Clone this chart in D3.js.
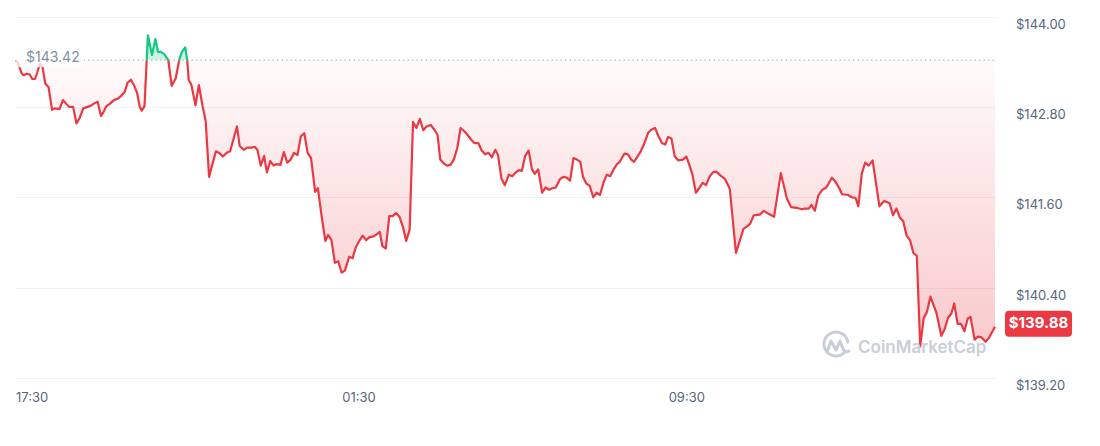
<!DOCTYPE html>
<html>
<head>
<meta charset="utf-8">
<script src="https://cdn.jsdelivr.net/npm/d3@7"></script>
<style>
  html, body { margin: 0; padding: 0; background: #fff; }
  svg { display: block; font-family: Inter, "Noto Sans", sans-serif; }
</style>
</head>
<body>
<svg id="chart" width="1100" height="446"></svg>
<script>
"use strict";

// minutes since 17:30 (24h window) and price in USD
const times = [
    0, 3, 8, 11, 16, 20, 24, 28, 31, 35, 39, 43, 48, 53, 57, 64, 69, 75, 78, 84,
    89, 94, 99, 105, 109, 114, 120, 125, 128, 133, 138, 144, 150, 155, 160, 164, 169, 174, 178, 182,
    185, 189, 194, 200, 205, 209, 213, 218, 224, 229, 235, 240, 244, 249, 252, 254, 258, 264, 269, 274,
    279, 284, 289, 294, 300, 304, 310, 315, 325, 329, 335, 340, 347, 351, 355, 360, 365, 369, 374, 379,
    384, 389, 394, 399, 404, 409, 414, 419, 424, 429, 434, 440, 444, 450, 455, 459, 464, 469, 474, 479,
    484, 490, 495, 500, 505, 510, 515, 520, 526, 531, 535, 539, 544, 549, 554, 559, 564, 569, 574, 579,
    584, 589, 594, 599, 604, 610, 615, 620, 624, 629, 634, 639, 644, 649, 654, 659, 664, 669, 674, 680,
    685, 690, 695, 700, 705, 709, 714, 719, 725, 730, 735, 740, 744, 749, 754, 759, 763, 768, 774, 779,
    784, 789, 794, 800, 805, 810, 815, 820, 825, 830, 834, 839, 844, 849, 854, 859, 864, 869, 874, 879,
    884, 888, 895, 900, 905, 909, 914, 919, 924, 930, 935, 940, 945, 950, 955, 959, 964, 969, 974, 981,
    986, 990, 995, 1000, 1005, 1010, 1015, 1020, 1025, 1030, 1036, 1043, 1048, 1050, 1059, 1070, 1075, 1080, 1085, 1094,
    1100, 1107, 1115, 1125, 1134, 1140, 1148, 1156, 1160, 1166, 1170, 1175, 1180, 1186, 1192, 1200, 1205, 1211, 1215, 1224,
    1229, 1235, 1239, 1244, 1249, 1254, 1260, 1270, 1277, 1285, 1290, 1295, 1300, 1305, 1310, 1315, 1320, 1325, 1330, 1335,
    1340, 1345, 1354, 1361, 1366, 1371, 1376, 1380, 1385, 1390, 1395, 1400, 1404, 1410, 1415, 1420, 1426, 1431, 1440
];
const prices = [
    143.42, 143.38, 143.25, 143.22, 143.24, 143.23, 143.17, 143.17, 143.25, 143.37, 143.33, 143.11, 143.06, 142.76, 142.78, 142.77, 142.89, 142.83, 142.80, 142.80,
    142.58, 142.66, 142.78, 142.80, 142.81, 142.84, 142.87, 142.68, 142.72, 142.81, 142.84, 142.89, 142.91, 142.95, 143.00, 143.12, 143.16, 143.08, 142.99, 142.80,
    142.75, 142.81, 143.75, 143.49, 143.70, 143.53, 143.53, 143.50, 143.42, 143.08, 143.18, 143.42, 143.53, 143.59, 143.40, 143.16, 143.09, 142.82, 143.09, 142.83,
    142.61, 141.87, 142.04, 142.21, 142.18, 142.14, 142.19, 142.21, 142.54, 142.28, 142.23, 142.26, 142.26, 142.27, 142.23, 142.02, 142.15, 141.93, 142.08, 142.02,
    142.04, 142.03, 142.20, 142.06, 142.10, 142.19, 142.16, 142.41, 142.45, 142.19, 142.12, 141.67, 141.72, 141.32, 141.02, 141.10, 141.03, 140.73, 140.75, 140.60,
    140.63, 140.81, 140.79, 140.94, 141.02, 141.09, 141.03, 141.07, 141.08, 141.11, 141.14, 140.95, 140.92, 141.35, 141.35, 141.39, 141.34, 141.21, 141.02, 141.17,
    142.60, 142.52, 142.64, 142.49, 142.54, 142.56, 142.50, 142.43, 142.10, 142.05, 142.02, 142.03, 142.10, 142.25, 142.52, 142.48, 142.43, 142.37, 142.32, 142.32,
    142.22, 142.17, 142.19, 142.13, 142.23, 142.16, 141.85, 141.76, 141.90, 141.88, 141.93, 141.96, 141.95, 142.15, 142.22, 141.97, 141.91, 141.97, 141.66, 141.73,
    141.70, 141.72, 141.73, 141.84, 141.87, 141.86, 141.82, 142.12, 142.10, 142.07, 141.87, 141.78, 141.75, 141.60, 141.66, 141.63, 141.79, 141.90, 141.88, 141.97,
    142.04, 142.07, 142.18, 142.17, 142.10, 142.07, 142.14, 142.21, 142.31, 142.46, 142.50, 142.52, 142.41, 142.32, 142.30, 142.40, 142.38, 142.14, 142.09, 142.10,
    142.14, 142.04, 141.90, 141.66, 141.72, 141.79, 141.76, 141.87, 141.93, 141.94, 141.89, 141.84, 141.75, 141.70, 140.86, 141.18, 141.21, 141.25, 141.36, 141.37,
    141.42, 141.38, 141.34, 141.92, 141.58, 141.47, 141.46, 141.44, 141.45, 141.45, 141.50, 141.42, 141.62, 141.70, 141.73, 141.86, 141.81, 141.72, 141.64, 141.63,
    141.60, 141.59, 141.48, 141.91, 142.06, 142.02, 142.09, 141.48, 141.55, 141.52, 141.36, 141.45, 141.33, 141.28, 141.09, 141.03, 140.86, 140.82, 139.62, 139.99,
    140.08, 140.28, 140.06, 139.76, 139.85, 140.00, 140.06, 140.19, 139.92, 139.92, 139.82, 139.99, 140.01, 139.71, 139.75, 139.74, 139.68, 139.73, 139.88
];

const yTicks = [139.2, 140.4, 141.6, 142.8, 144.0];
const xTicks = [0, 480, 960];
const xTickLabels = ["17:30", "01:30", "09:30"];
const openPrice = 143.42;

const RED = "#ea3943";
const GREEN = "#16c784";
const LABEL_COLOR = "#58667e";

const LEFT = 16;
const RIGHT = 995;
const TOP = 16.5;
const BOTTOM = 378;

const data = times.map(function (t, i) {
    return {t: t, p: prices[i]};
});

const svg = d3.select("#chart");
const x = d3.scaleLinear().domain([0, 1440]).range([LEFT, RIGHT]);
const y = d3.scaleLinear().domain([139.2, 144]).range([BOTTOM, TOP]);
const baseY = y(openPrice);

const defs = svg.append("defs");

// Gradients for the areas between the line and the opening price.
let redGrad = defs.append("linearGradient")
    .attr("id", "redFill")
    .attr("gradientUnits", "userSpaceOnUse")
    .attr("x1", 0).attr("x2", 0)
    .attr("y1", baseY).attr("y2", BOTTOM);
redGrad.append("stop").attr("offset", 0).attr("stop-color", RED).attr("stop-opacity", 0.02);
redGrad.append("stop").attr("offset", 1).attr("stop-color", RED).attr("stop-opacity", 0.3);

let greenGrad = defs.append("linearGradient")
    .attr("id", "greenFill")
    .attr("gradientUnits", "userSpaceOnUse")
    .attr("x1", 0).attr("x2", 0)
    .attr("y1", TOP).attr("y2", baseY);
greenGrad.append("stop").attr("offset", 0).attr("stop-color", GREEN).attr("stop-opacity", 0.4);
greenGrad.append("stop").attr("offset", 1).attr("stop-color", GREEN).attr("stop-opacity", 0.2);

defs.append("clipPath").attr("id", "clipAbove")
    .append("rect")
    .attr("x", 0).attr("y", 0)
    .attr("width", 1100).attr("height", baseY);
defs.append("clipPath").attr("id", "clipBelow")
    .append("rect")
    .attr("x", 0).attr("y", baseY)
    .attr("width", 1100).attr("height", 446 - baseY);

// Grid lines
svg.append("g")
    .selectAll("line")
    .data(yTicks)
    .join("line")
    .attr("x1", LEFT)
    .attr("x2", RIGHT)
    .attr("y1", d => Math.round(y(d)) + 0.5)
    .attr("y2", d => Math.round(y(d)) + 0.5)
    .attr("stroke", "#eff2f5")
    .attr("stroke-width", 1);

// Areas
const area = d3.area()
    .x(d => x(d.t))
    .y0(baseY)
    .y1(d => y(d.p));
svg.append("path")
    .datum(data)
    .attr("d", area)
    .attr("fill", "url(#redFill)")
    .attr("clip-path", "url(#clipBelow)");
svg.append("path")
    .datum(data)
    .attr("d", area)
    .attr("fill", "url(#greenFill)")
    .attr("clip-path", "url(#clipAbove)");

// Opening price reference line
svg.append("line")
    .attr("x1", LEFT)
    .attr("x2", RIGHT)
    .attr("y1", baseY)
    .attr("y2", baseY)
    .attr("stroke", "#a6b0c3")
    .attr("stroke-width", 1)
    .attr("stroke-dasharray", "1.5 3");

// Price line, red below the opening price and green above it
const line = d3.line()
    .x(d => x(d.t))
    .y(d => y(d.p));
svg.append("path")
    .datum(data)
    .attr("d", line)
    .attr("fill", "none")
    .attr("stroke", RED)
    .attr("stroke-width", 2.2)
    .attr("stroke-linejoin", "round")
    .attr("clip-path", "url(#clipBelow)");
svg.append("path")
    .datum(data)
    .attr("d", line)
    .attr("fill", "none")
    .attr("stroke", GREEN)
    .attr("stroke-width", 2.2)
    .attr("stroke-linejoin", "round")
    .attr("clip-path", "url(#clipAbove)");

// Opening price label
svg.append("rect")
    .attr("x", LEFT)
    .attr("y", baseY - 11)
    .attr("width", 68)
    .attr("height", 18)
    .attr("fill", "#fff")
    .attr("fill-opacity", 0.75);
svg.append("text")
    .attr("x", LEFT + 10)
    .attr("y", baseY - 2)
    .attr("dominant-baseline", "middle")
    .attr("font-size", 14)
    .attr("fill", "#7f8fa9")
    .text("$" + openPrice.toFixed(2));

// Y axis labels
svg.append("g")
    .selectAll("text")
    .data(yTicks)
    .join("text")
    .attr("x", 1016)
    .attr("y", d => y(d) + 8.5)
    .attr("dominant-baseline", "middle")
    .attr("font-size", 13)
    .attr("fill", LABEL_COLOR)
    .text(d => "$" + d.toFixed(2));

// X axis labels
svg.append("g")
    .selectAll("text")
    .data(xTicks)
    .join("text")
    .attr("x", d => x(d))
    .attr("y", 398)
    .attr("dominant-baseline", "middle")
    .attr("font-size", 13)
    .attr("fill", LABEL_COLOR)
    .text((d, i) => xTickLabels[i]);

// Watermark
let mark = svg.append("g").attr("fill", "none").attr("stroke", "#c9ced8").attr("stroke-width", 3)
    .attr("stroke-linecap", "round").attr("stroke-linejoin", "round");
mark.append("path")
    .attr("d", d3.arc()({innerRadius: 12, outerRadius: 12, startAngle: 0.75 * Math.PI, endAngle: 2.45 * Math.PI}))
    .attr("transform", "translate(836,344)");
mark.append("path")
    .attr("d", "M827,352 L831,341 L836,350 L840,341 L843,349 Q845,353 849,351");
svg.append("text")
    .attr("x", 858)
    .attr("y", 353)
    .attr("font-size", 17)
    .attr("font-weight", 600)
    .attr("fill", "#c9ced8")
    .text("CoinMarketCap");

// Current price badge
const last = data[data.length - 1];
const badgeY = y(last.p) - 3;
svg.append("rect")
    .attr("x", 1005)
    .attr("y", badgeY - 13)
    .attr("width", 67)
    .attr("height", 26)
    .attr("rx", 4)
    .attr("fill", RED);
svg.append("text")
    .attr("x", 1038.5)
    .attr("y", badgeY + 0.5)
    .attr("text-anchor", "middle")
    .attr("dominant-baseline", "middle")
    .attr("font-size", 15)
    .attr("font-weight", 700)
    .attr("fill", "#fff")
    .text("$" + last.p.toFixed(2));
</script>
</body>
</html>
